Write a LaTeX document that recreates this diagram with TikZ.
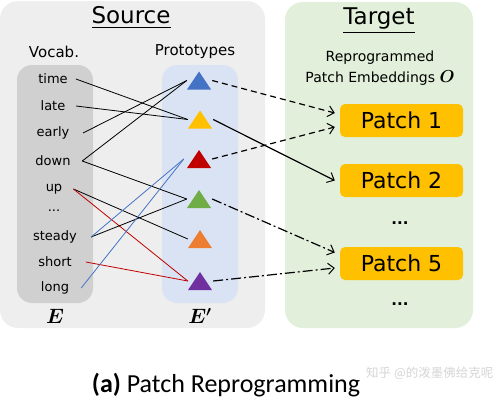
\documentclass[tikz,border=0pt]{standalone}
\usepackage{fontspec}
\usepackage{amsmath,bm}
\setmainfont{DejaVu Sans}
\newfontfamily\capfont{Carlito}
\newfontfamily\cjk{Noto Sans CJK SC}
\usetikzlibrary{arrows.meta,calc}
\definecolor{srcbg}{HTML}{EEEEEE}
\definecolor{vocbg}{HTML}{D0D0D0}
\definecolor{probg}{HTML}{DAE3F3}
\definecolor{tgtbg}{HTML}{E2EFDA}
\definecolor{patch}{HTML}{FFC000}
\definecolor{tblue}{HTML}{4472C4}
\definecolor{tyellow}{HTML}{FFC000}
\definecolor{tred}{HTML}{C00000}
\definecolor{tgreen}{HTML}{70AD47}
\definecolor{torange}{HTML}{ED7D31}
\definecolor{tpurple}{HTML}{7030A0}
\definecolor{wm}{HTML}{D5D5D5}
\newcommand{\fs}[1]{\fontsize{#1}{#1}\selectfont}
\begin{document}
\begin{tikzpicture}[x=1pt,y=-1pt,
  word/.style={inner sep=0pt,font=\fs{13}},
  head/.style={inner sep=0pt,font=\fs{15}},
  title/.style={inner sep=0pt,font=\fs{23}},
  tri/.style={minimum width=24pt,minimum height=18pt,inner sep=0pt,
    path picture={\fill[#1] (path picture bounding box.south west) -- (path picture bounding box.south east) -- (path picture bounding box.north) -- cycle;}},
  link/.style={line width=0.8pt},
  patchbox/.style={fill=patch,rounded corners=5pt,minimum width=123pt,minimum height=33pt,inner sep=0pt,font=\fs{22}},
  arr/.style={line width=1.2pt,-{Straight Barb[length=6pt,width=11pt,line width=1pt]}},
  dashdot/.style={dash pattern=on 10pt off 3pt on 2pt off 3pt},
  dsh/.style={dash pattern=on 6pt off 4pt}]
\useasboundingbox (0,0) rectangle (494,402);
% panels
\fill[srcbg,rounded corners=18pt] (0,1) rectangle (265,328);
\fill[tgtbg,rounded corners=18pt] (285,2) rectangle (473,328);
\fill[vocbg,rounded corners=15pt] (17,65) rectangle (93,303);
\fill[probg,rounded corners=15pt] (162,65) rectangle (238,303);
% titles
\node[title] (src) at (131,18) {\underline{Source}};
\node[title] (tgt) at (379,21) {\underline{Target}};
\node[head] (voc) at (54,52) {Vocab.};
\node[head] (pro) at (195,52) {Prototypes};
\node[head,font=\fs{14}] (rep1) at (380,58) {Reprogrammed};
\node[head,font=\fs{14}] (rep2) at (380,78) {Patch Embeddings \fs{17}$\boldsymbol{O}$};
% words
\node[word] (time) at (53,79) {time};
\node[word] (late) at (53,106) {late};
\node[word] (early) at (53,133) {early};
\node[word] (down) at (53,161) {down};
\node[word] (up) at (54,189) {up};
\node[word] (dots) at (54,211) {...};
\node[word] (steady) at (55,237) {steady};
\node[word] (short) at (55,262) {short};
\node[word] (long) at (55,288) {long};
\node[inner sep=0pt,font=\fs{22}] (E) at (55,316) {$\boldsymbol{E}$};
\node[inner sep=0pt,font=\fs{22}] (Ep) at (200,316) {$\boldsymbol{E'}$};
% triangles
\node[tri=tblue] (tb) at (199,80.5) {};
\node[tri=tyellow] (ty) at (200,119.5) {};
\node[tri=tred] (tr) at (199,159) {};
\node[tri=tgreen] (tg) at (199,199) {};
\node[tri=torange] (to) at (200,239) {};
\node[tri=tpurple] (tp) at (200,281) {};
% word links
\draw[link] ([xshift=8pt]time.east) -- (ty.west);
\draw[link] ([xshift=10.5pt]late.east) -- (ty.west);
\draw[link] ([xshift=13.5pt]early.east) -- (tb.west);
\draw[link] ([xshift=11.5pt]down.east) -- (tb.west);
\draw[link] ([xshift=11.5pt]down.east) -- (tg.west);
\draw[link] ([xshift=11pt]up.east) -- (to.west);
\draw[link,tred] ([xshift=11pt]up.east) -- (tp.west);
\draw[link] ([xshift=14pt]steady.east) -- (tg.west);
\draw[link,tblue] ([xshift=14pt]steady.east) -- ([xshift=-3pt]tr.west);
\draw[link,tred] ([xshift=14pt]short.east) -- (tp.west);
\draw[link,tblue] ([xshift=12pt]long.east) -- ([xshift=-3pt]tr.west);
% patches
\node[patchbox] (p1) at (401.5,120.5) {Patch 1};
\node[patchbox] (p2) at (401.5,180.5) {Patch 2};
\node[inner sep=0pt,font=\bfseries\fs{15}] (d1) at (400,223) {...};
\node[patchbox] (p5) at (401.5,263.5) {Patch 5};
\node[inner sep=0pt,font=\bfseries\fs{15}] (d2) at (400,304) {...};
% arrows
\draw[arr,dsh] ([xshift=1pt]tb.east) -- ([shift={(-5,-7.5)}]p1.west);
\draw[arr,dsh] ([xshift=1pt]tr.east) -- ([shift={(-5,6.5)}]p1.west);
\draw[arr] ([xshift=1pt]ty.east) -- ([shift={(-5,0)}]p2.west);
\draw[arr,dashdot] ([xshift=1pt]tg.east) -- ([shift={(-5,-11)}]p5.west);
\draw[arr,dashdot] ([xshift=1pt]tp.east) -- ([shift={(-5,4.5)}]p5.west);
% caption
\node[inner sep=0pt,font=\capfont\fs{26}] (cap) at (226,385) {\textbf{(a)} Patch Reprogramming};
\node[inner sep=0pt,font=\cjk\fs{12.5},text=wm,anchor=west] (wmk) at (366,373) {知乎 @的泼墨佛给克呢};
\end{tikzpicture}
\end{document}
